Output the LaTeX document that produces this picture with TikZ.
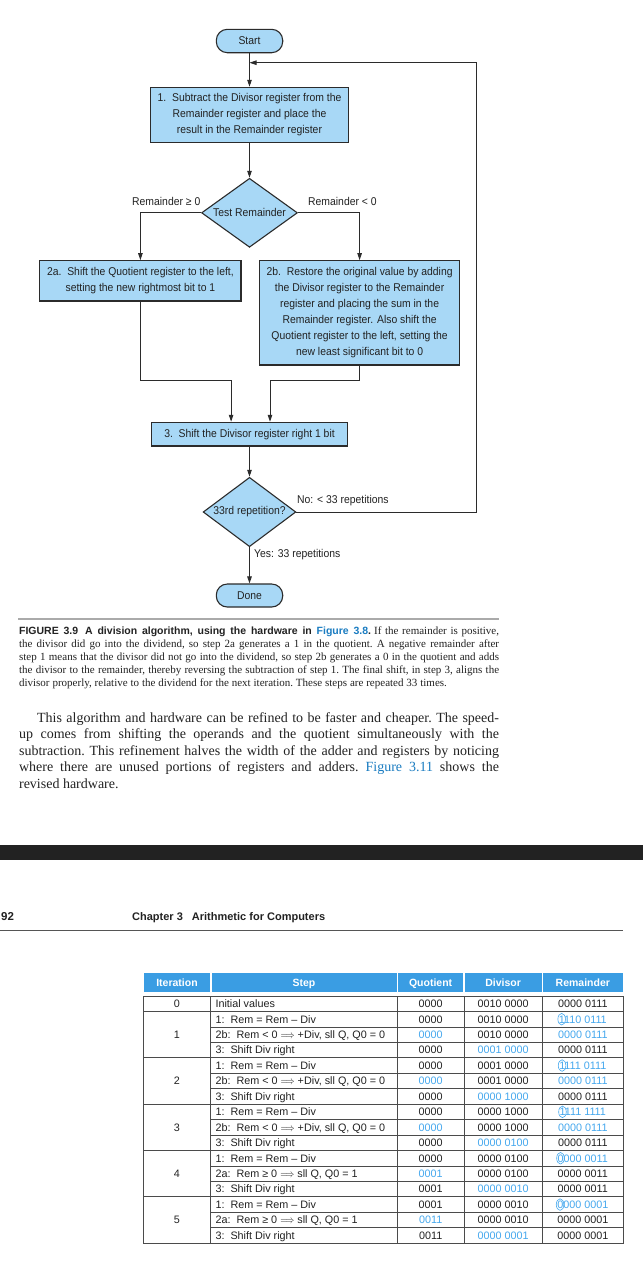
\documentclass[tikz,border=0pt]{standalone}
\usepackage{fontspec}
\setmainfont{Liberation Serif}
\newfontfamily\sansf{Liberation Sans}
\newfontfamily\flowf[FakeStretch=0.92]{Liberation Sans}
\usetikzlibrary{shapes.geometric,arrows.meta}
\definecolor{boxblue}{HTML}{A8D8F6}
\definecolor{hdrblue}{HTML}{3A9DE3}
\definecolor{tblue}{HTML}{45A8EE}
\definecolor{linkblue}{HTML}{1A7CC1}
\definecolor{linec}{HTML}{2B2B2B}
\definecolor{textc}{HTML}{222222}
\definecolor{rulegray}{HTML}{AAAAAA}
\definecolor{barc}{HTML}{222222}
\newcommand\ffont{\flowf\fontsize{11.3}{16}\selectfont}
\newcommand\capfont{\frenchspacing\fontsize{11}{13.2}\selectfont\color{textc}}
\newcommand\parfont{\frenchspacing\fontsize{14}{16.5}\selectfont\color{textc}}
\newcommand\tfont{\sansf\fontsize{10.8}{12}\selectfont}
\newcommand\B[1]{\textcolor{tblue}{#1}}
\newcommand\imp{\scalebox{0.8}[1]{$\Longrightarrow$}}
\begin{document}
\begin{tikzpicture}[x=1pt,y=-1pt,
  flow/.style={draw=linec,line width=1.1pt,fill=boxblue,inner sep=0pt,align=center,font=\ffont,text=textc},
  term/.style={flow,rounded corners=11pt},
  dec/.style={flow,diamond,aspect=1.39},
  arr/.style={draw=linec,line width=0.9pt,-{Triangle[length=7pt,width=4.5pt]}},
  lbl/.style={font=\ffont,text=textc,inner sep=0pt},
  tcell/.style={font=\tfont,text=textc,inner sep=0pt,text height=7.7pt,text depth=0pt},
  hdr/.style={font=\sansf\bfseries\fontsize{10.5}{12}\selectfont,text=white,inner sep=0pt,text height=7.6pt,text depth=0pt},
  tline/.style={draw=linec!85,line width=0.8pt}]
\fill[white] (0,0) rectangle (643,1261);
\useasboundingbox (0,0) rectangle (643,1261);

% ---------- flowchart ----------
\node[term,minimum width=66.4pt,minimum height=23.4pt] (start) at (249.5,41) {Start};
\node[flow,minimum width=198pt,minimum height=55pt] (b1) at (249.5,114.8)
  {1.\ \ Subtract the Divisor register from the\\Remainder register and place the\\result in the Remainder register};
\node[dec,minimum width=95.9pt,minimum height=69pt] (d1) at (249.5,212.8) {Test Remainder};
\node[flow,minimum width=201.2pt,minimum height=40.3pt] (b2a) at (140.4,280.85)
  {2a.\ \ Shift the Quotient register to the left,\\setting the new rightmost bit to 1};
\node[flow,minimum width=200.4pt,minimum height=104.3pt] (b2b) at (359.6,312.85)
  {2b.\ \ Restore the original value by adding\\the Divisor register to the Remainder\\register and placing the sum in the\\Remainder register. Also shift the\\Quotient register to the left, setting the\\new least significant bit to 0};
\node[flow,minimum width=195.9pt,minimum height=23.7pt] (b3) at (249.5,434.15)
  {3.\ \ Shift the Divisor register right 1 bit};
\node[dec,minimum width=92.7pt,minimum height=69.4pt] (d2) at (249.5,512) {33rd repetition?};
\node[term,minimum width=66.4pt,minimum height=23pt] (done) at (249.5,595.5) {Done};

\node[lbl,anchor=east] (lge) at (200.5,201) {Remainder ≥ 0};
\node[lbl,anchor=west] (llt) at (308,201) {Remainder < 0};
\node[lbl,anchor=west] (lno) at (297,501) {No: < 33 repetitions};
\node[lbl,anchor=west] (lyes) at (254,554.3) {Yes: 33 repetitions};

\coordinate (my) at (0,380.3);
\coordinate (loopc) at (476.6,62.7);
\coordinate (join) at (249.5,62.7);
\draw[arr] (start) -- (b1);
\draw[arr] (b1) -- (d1);
\draw[arr] (d1.west) -| (b2a.north);
\draw[arr] (d1.east) -| (b2b.north);
\draw[arr] (b2a.south) -- (b2a.south |- my) -| ([xshift=-18.4pt]b3.north);
\draw[arr] (b2b.south) -- (b2b.south |- my) -| ([xshift=20.5pt]b3.north);
\draw[arr] (b3) -- (d2);
\draw[arr] (d2) -- (done);
\draw[arr] (d2.east) -| (loopc) -- (join);

% ---------- caption ----------
\draw[rulegray,line width=1.5pt] (18.4,619) -- (498.8,619);
\node[anchor=base west,inner sep=0pt] (cap1) at (18.9,634) {\capfont\makebox[480pt][s]{\mbox{\makebox[352pt][s]{\sansf\bfseries\fontsize{10.5}{13}\selectfont FIGURE 3.9\hspace{7pt}A division algorithm, using the hardware in \textcolor{linkblue}{Figure 3.8}.}}\hspace{3pt}If the remainder is positive,}};
\node[anchor=base west,inner sep=0pt] (cap2) at (18.9,647.2) {\capfont\makebox[480pt][s]{the divisor did go into the dividend, so step 2a generates a 1 in the quotient. A negative remainder after}};
\node[anchor=base west,inner sep=0pt] (cap3) at (18.9,660.4) {\capfont\makebox[480pt][s]{step 1 means that the divisor did not go into the dividend, so step 2b generates a 0 in the quotient and adds}};
\node[anchor=base west,inner sep=0pt] (cap4) at (18.9,673.6) {\capfont\makebox[480pt][s]{the divisor to the remainder, thereby reversing the subtraction of step 1. The final shift, in step 3, aligns the}};
\node[anchor=base west,inner sep=0pt] (cap5) at (18.9,686.8) {\capfont\makebox[427.8pt][s]{divisor properly, relative to the dividend for the next iteration. These steps are repeated 33 times.}};

% ---------- paragraph ----------
\node[anchor=base west,inner sep=0pt] (p1) at (36.9,722.2) {\parfont\makebox[461.9pt][s]{This algorithm and hardware can be refined to be faster and cheaper. The speed-}};
\node[anchor=base west,inner sep=0pt] (p2) at (18.9,738.7) {\parfont\makebox[479.9pt][s]{up comes from shifting the operands and the quotient simultaneously with the}};
\node[anchor=base west,inner sep=0pt] (p3) at (18.9,755.2) {\parfont\makebox[479.9pt][s]{subtraction. This refinement halves the width of the adder and registers by noticing}};
\node[anchor=base west,inner sep=0pt] (p4) at (18.9,771.7) {\parfont\makebox[479.9pt][s]{where there are unused portions of registers and adders. \textcolor{linkblue}{Figure 3.11} shows the}};
\node[anchor=base west,inner sep=0pt] (p5) at (18.9,788.2) {\parfont revised hardware.};

% ---------- page break bar and header ----------
\fill[barc] (0,845) rectangle (643,860);
\node[anchor=base west,inner sep=0pt] (pgno) at (1,920) {\sansf\bfseries\fontsize{11.5}{13}\selectfont\color{textc}92};
\node[anchor=base west,inner sep=0pt] (chap) at (132,920) {\sansf\bfseries\fontsize{11}{13}\selectfont\color{textc}Chapter 3\hspace{9pt}Arithmetic for Computers};
\draw[linec!80,line width=1pt] (0,930) -- (623,930);

% ---------- table ----------
\foreach \a/\b/\t [count=\c] in {143.3/210.7/Iteration, 210.7/397.3/Step, 397.3/464/Quotient, 464/542.3/Divisor, 542.3/623.3/Remainder}
{
  \fill[hdrblue] ({\a+0.8},973.3) rectangle ({\b-0.8},991.7);
  \node[hdr] (h\c) at ({(\a+\b)/2},982.5) {\t};
}
\draw[tline,line width=1pt] (143.3,996) rectangle (623.3,1243.2);
\foreach \xx in {210.7,397.3,464,542.3}
  \draw[tline] (\xx,996) -- (\xx,1243.2);
\foreach \k in {1,4,7,10,13}
  \draw[tline] (143.3,{996+15.45*\k}) -- (623.3,{996+15.45*\k});
\foreach \k in {2,3,5,6,8,9,11,12,14,15}
  \draw[tline] (210.7,{996+15.45*\k}) -- (623.3,{996+15.45*\k});

\node[tcell] (it0) at (177,{996+15.45*0.5}) {0};
\foreach \k in {1,...,5}
  \node[tcell] (it\k) at (177,{996+15.45*(3*\k-0.5)}) {\k};

\foreach \i/\st/\q/\dv/\rm in {
 0/{Initial values}/{0000}/{0010 0000}/{0000 0111},
 1/{1:\ \ Rem = Rem – Div}/{0000}/{0010 0000}/{\B{1110 0111}},
 2/{2b:\ \ Rem < 0 \imp{} +Div, sll Q, Q0 = 0}/{\B{0000}}/{0010 0000}/{\B{0000 0111}},
 3/{3:\ \ Shift Div right}/{0000}/{\B{0001 0000}}/{0000 0111},
 4/{1:\ \ Rem = Rem – Div}/{0000}/{0001 0000}/{\B{1111 0111}},
 5/{2b:\ \ Rem < 0 \imp{} +Div, sll Q, Q0 = 0}/{\B{0000}}/{0001 0000}/{\B{0000 0111}},
 6/{3:\ \ Shift Div right}/{0000}/{\B{0000 1000}}/{0000 0111},
 7/{1:\ \ Rem = Rem – Div}/{0000}/{0000 1000}/{\B{1111 1111}},
 8/{2b:\ \ Rem < 0 \imp{} +Div, sll Q, Q0 = 0}/{\B{0000}}/{0000 1000}/{\B{0000 0111}},
 9/{3:\ \ Shift Div right}/{0000}/{\B{0000 0100}}/{0000 0111},
 10/{1:\ \ Rem = Rem – Div}/{0000}/{0000 0100}/{\B{0000 0011}},
 11/{2a:\ \ Rem ≥ 0 \imp{} sll Q, Q0 = 1}/{\B{0001}}/{0000 0100}/{0000 0011},
 12/{3:\ \ Shift Div right}/{0001}/{\B{0000 0010}}/{0000 0011},
 13/{1:\ \ Rem = Rem – Div}/{0001}/{0000 0010}/{\B{0000 0001}},
 14/{2a:\ \ Rem ≥ 0 \imp{} sll Q, Q0 = 1}/{\B{0011}}/{0000 0010}/{0000 0001},
 15/{3:\ \ Shift Div right}/{0011}/{\B{0000 0001}}/{0000 0001}}
{
  \node[tcell,anchor=west] (st\i) at (215.3,{996+15.45*(\i+0.5)}) {\st};
  \node[tcell] (q\i) at (430.65,{996+15.45*(\i+0.5)}) {\q};
  \node[tcell] (dv\i) at (503.15,{996+15.45*(\i+0.5)}) {\dv};
  \node[tcell] (rm\i) at (582.8,{996+15.45*(\i+0.5)}) {\rm};
}
\foreach \i in {1,4,7,10,13}
  \draw[tblue,line width=0.6pt] ([xshift=3pt]rm\i.west) ellipse (3.8pt and 5.8pt);
\end{tikzpicture}
\end{document}
